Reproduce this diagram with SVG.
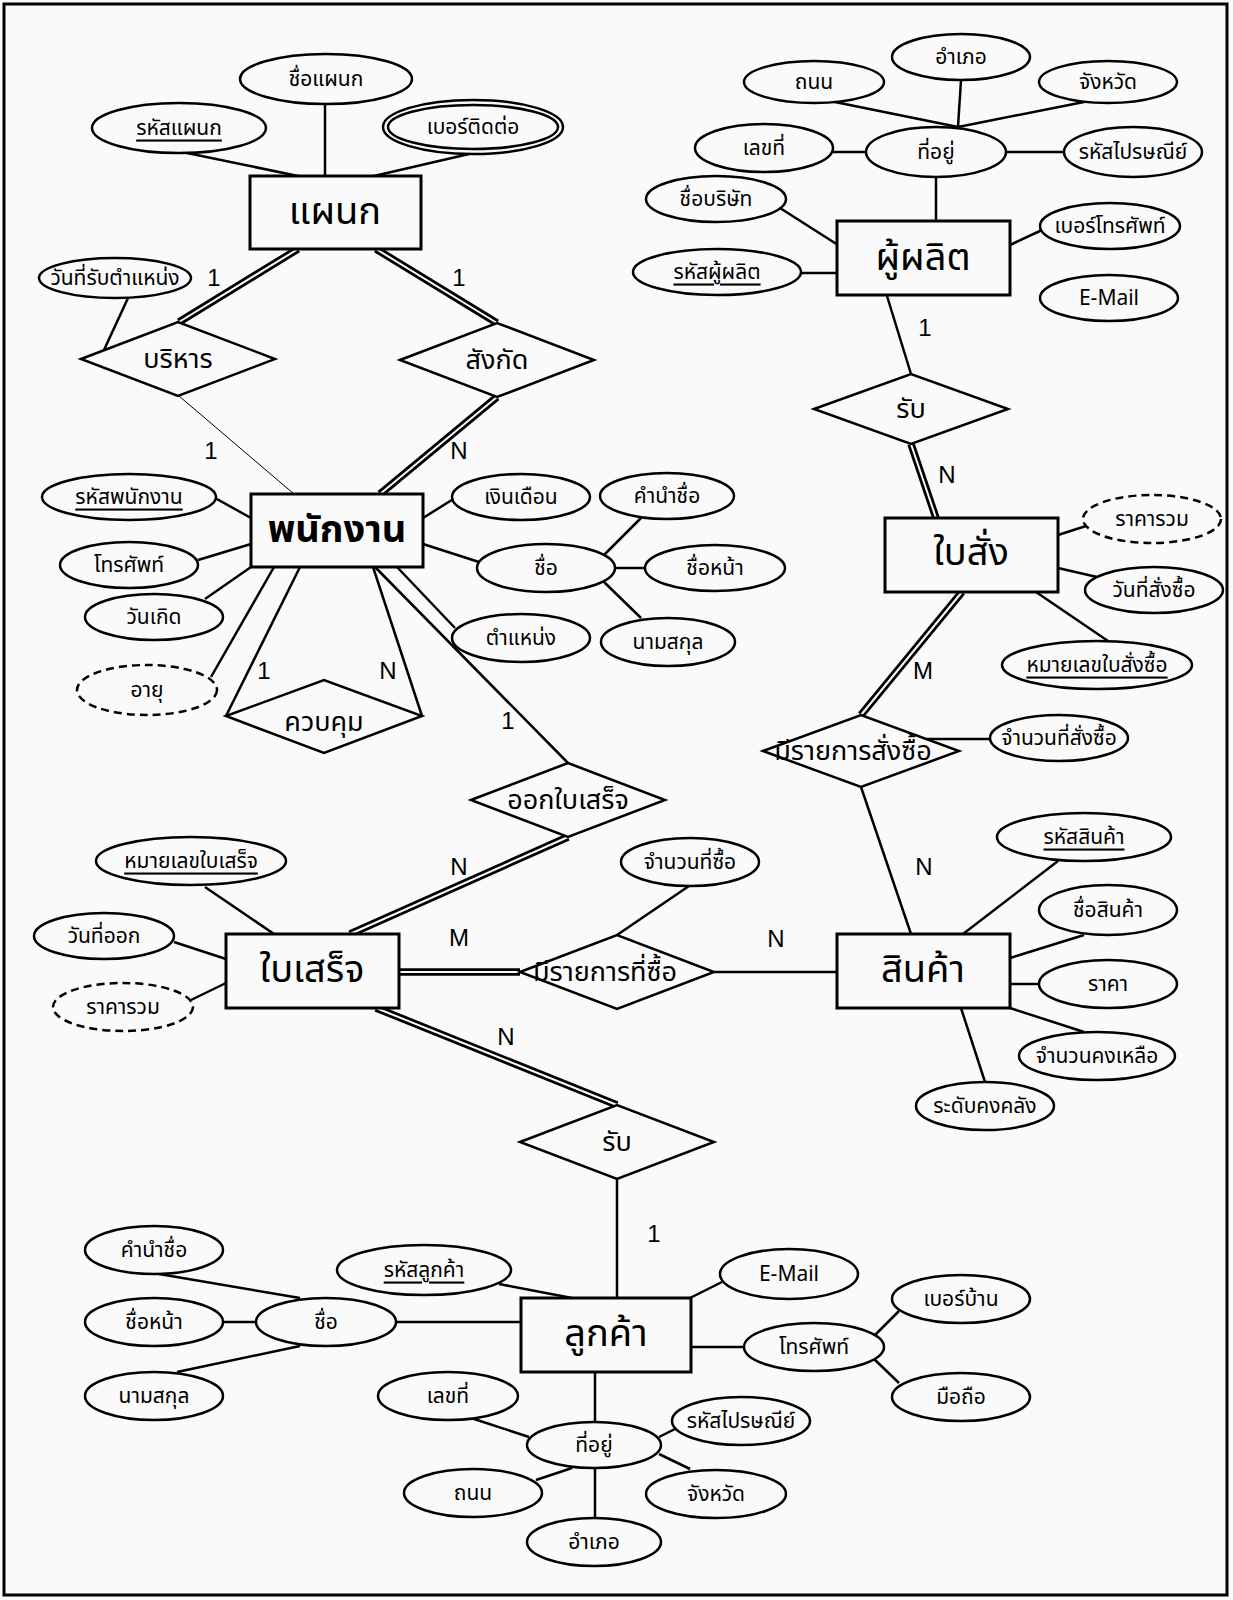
<svg xmlns="http://www.w3.org/2000/svg" width="1233" height="1600" viewBox="0 0 1233 1600">
<style>
text{font-family:"Noto Sans Thai","Noto Sans","DejaVu Sans",sans-serif;fill:#000;text-anchor:middle;dominant-baseline:central}
.ent rect{fill:#fafafa;stroke:#000;stroke-width:3}
.ent text{font-size:38px}
.rel polygon{fill:#fafafa;stroke:#000;stroke-width:2.5}
.rel text{font-size:27px}
.att ellipse{fill:#fafafa;stroke:#000;stroke-width:2.5}
.att text{font-size:21px}
.dash ellipse{stroke-dasharray:8 5}
.key text{text-decoration:underline}
.conn line{stroke:#000;stroke-width:2.5}
.conn line.thin{stroke-width:1}
.conn line.dblo{stroke-width:7.5}
.conn line.dbli{stroke:#fafafa;stroke-width:2}
.card text{font-family:"Liberation Sans",Arial,sans-serif;font-size:24px}
</style>
<rect x="0" y="0" width="1233" height="1600" fill="#fafafa"/>
<rect x="4" y="4" width="1223" height="1591" fill="#fafafa" stroke="#000" stroke-width="3"/>

<g id="connectors" class="conn">
<line x1="187" y1="153" x2="298" y2="176"/>
<line x1="325" y1="104" x2="325" y2="176"/>
<line x1="469" y1="154" x2="374" y2="176"/>
<line class="dblo" x1="298" y1="249" x2="179" y2="322"/><line class="dbli" x1="298" y1="249" x2="179" y2="322"/>
<line class="dblo" x1="376" y1="249" x2="497" y2="323"/><line class="dbli" x1="376" y1="249" x2="497" y2="323"/>
<line x1="128" y1="298" x2="104" y2="350"/>
<line class="thin" x1="179" y1="396" x2="294" y2="494"/>
<line class="dblo" x1="497" y1="397" x2="380" y2="494"/><line class="dbli" x1="497" y1="397" x2="380" y2="494"/>
<line x1="961" y1="80" x2="958" y2="127"/>
<line x1="835" y1="102" x2="958" y2="127"/>
<line x1="1084" y1="102" x2="958" y2="127"/>
<line x1="833" y1="152" x2="866" y2="152"/>
<line x1="1006" y1="152" x2="1064" y2="152"/>
<line x1="936" y1="177" x2="936" y2="221"/>
<line x1="780" y1="208" x2="838" y2="245"/>
<line x1="801" y1="273" x2="837" y2="273"/>
<line x1="1042" y1="230" x2="1010" y2="245"/>
<line x1="887" y1="296" x2="911" y2="374"/>
<line class="dblo" x1="911" y1="444" x2="936" y2="518"/><line class="dbli" x1="911" y1="444" x2="936" y2="518"/>
<line x1="215" y1="498" x2="251" y2="518"/>
<line x1="198" y1="560" x2="251" y2="544"/>
<line x1="205" y1="599" x2="251" y2="567"/>
<line x1="274" y1="567" x2="211" y2="677"/>
<line x1="300" y1="567" x2="226" y2="716"/>
<line x1="373" y1="567" x2="422" y2="716"/>
<line x1="375" y1="567" x2="568" y2="763"/>
<line x1="397" y1="567" x2="455" y2="628"/>
<line x1="423" y1="518" x2="455" y2="498"/>
<line x1="423" y1="544" x2="479" y2="562"/>
<line x1="604" y1="555" x2="641" y2="518"/>
<line x1="615" y1="568" x2="646" y2="568"/>
<line x1="604" y1="582" x2="641" y2="618"/>
<line x1="1058" y1="535" x2="1086" y2="526"/>
<line x1="1058" y1="568" x2="1097" y2="577"/>
<line x1="1036" y1="592" x2="1108" y2="641"/>
<line class="dblo" x1="962" y1="592" x2="861" y2="715"/><line class="dbli" x1="962" y1="592" x2="861" y2="715"/>
<line x1="927" y1="739" x2="990" y2="739"/>
<line x1="861" y1="787" x2="911" y2="934"/>
<line x1="205" y1="887" x2="274" y2="934"/>
<line x1="174" y1="942" x2="226" y2="959"/>
<line x1="191" y1="1000" x2="226" y2="983"/>
<line class="dblo" x1="568" y1="837" x2="350" y2="934"/><line class="dbli" x1="568" y1="837" x2="350" y2="934"/>
<line class="dblo" x1="399" y1="972" x2="520" y2="972"/><line class="dbli" x1="399" y1="972" x2="520" y2="972"/>
<line class="dblo" x1="376" y1="1008" x2="617" y2="1105"/><line class="dbli" x1="376" y1="1008" x2="617" y2="1105"/>
<line x1="714" y1="972" x2="837" y2="972"/>
<line x1="689" y1="886" x2="617" y2="935"/>
<line x1="1058" y1="861" x2="963" y2="934"/>
<line x1="1084" y1="935" x2="1010" y2="958"/>
<line x1="1010" y1="984" x2="1039" y2="984"/>
<line x1="1010" y1="1008" x2="1084" y2="1032"/>
<line x1="961" y1="1008" x2="985" y2="1082"/>
<line x1="617" y1="1179" x2="617" y2="1298"/>
<line x1="159" y1="1274" x2="300" y2="1298"/>
<line x1="223" y1="1322" x2="256" y2="1322"/>
<line x1="177" y1="1372" x2="300" y2="1346"/>
<line x1="396" y1="1322" x2="521" y2="1322"/>
<line x1="499" y1="1284" x2="572" y2="1298"/>
<line x1="690" y1="1298" x2="722" y2="1282"/>
<line x1="690" y1="1347" x2="744" y2="1347"/>
<line x1="875" y1="1335" x2="899" y2="1311"/>
<line x1="873" y1="1358" x2="899" y2="1383"/>
<line x1="595" y1="1372" x2="595" y2="1422"/>
<line x1="471" y1="1418" x2="529" y2="1437"/>
<line x1="536" y1="1480" x2="572" y2="1468"/>
<line x1="595" y1="1468" x2="595" y2="1518"/>
<line x1="659" y1="1437" x2="675" y2="1429"/>
<line x1="659" y1="1454" x2="690" y2="1469"/>
</g>

<g id="e-department" class="ent"><rect x="250" y="176" width="171" height="73"/><text x="335" y="212">แผนก</text></g>
<g id="e-manufacturer" class="ent"><rect x="837" y="221" width="173" height="74"/><text x="923" y="258">ผู้ผลิต</text></g>
<g id="e-employee" class="ent"><rect x="251" y="494" width="172" height="73"/><text x="337" y="530" font-weight="bold" font-size="33">พนักงาน</text></g>
<g id="e-order" class="ent"><rect x="885" y="518" width="173" height="74"/><text x="971" y="553">ใบสั่ง</text></g>
<g id="e-receipt" class="ent"><rect x="226" y="934" width="173" height="74"/><text x="312" y="970">ใบเสร็จ</text></g>
<g id="e-product" class="ent"><rect x="837" y="934" width="173" height="74"/><text x="923" y="970">สินค้า</text></g>
<g id="e-customer" class="ent"><rect x="521" y="1298" width="170" height="74"/><text x="606" y="1334">ลูกค้า</text></g>

<g id="r-manage" class="rel"><polygon points="81,359 178,322 275,359 178,396"/><text x="178" y="359">บริหาร</text></g>
<g id="r-belong" class="rel"><polygon points="400,360 497,323 594,360 497,397"/><text x="497" y="360">สังกัด</text></g>
<g id="r-receive1" class="rel"><polygon points="814,409 911,374 1008,409 911,444"/><text x="911" y="409">รับ</text></g>
<g id="r-control" class="rel"><polygon points="226,716 324,680 422,716 324,753"/><text x="324" y="722">ควบคุม</text></g>
<g id="r-issue" class="rel"><polygon points="471,800 568,763 665,800 568,837"/><text x="568" y="800">ออกใบเสร็จ</text></g>
<g id="r-orderitems" class="rel"><polygon points="763,751 861,715 959,751 861,787"/><text x="853" y="751">มีรายการสั่งซื้อ</text></g>
<g id="r-buyitems" class="rel"><polygon points="520,972 617,935 714,972 617,1009"/><text x="605" y="972">มีรายการที่ซื้อ</text></g>
<g id="r-receive2" class="rel"><polygon points="520,1142 617,1105 714,1142 617,1179"/><text x="617" y="1142">รับ</text></g>

<g id="a-deptname" class="att"><ellipse cx="326" cy="79" rx="86" ry="25"/><text x="326" y="79">ชื่อแผนก</text></g>
<g id="a-deptid" class="att key"><ellipse cx="179" cy="128" rx="87" ry="25"/><text x="179" y="128">รหัสแผนก</text></g>
<g id="a-deptphone" class="att"><ellipse cx="473" cy="127" rx="90" ry="27"/><ellipse cx="473" cy="127" rx="85" ry="22"/><text x="473" y="127">เบอร์ติดต่อ</text></g>
<g id="a-startdate" class="att"><ellipse cx="115" cy="278" rx="76" ry="20"/><text x="115" y="278" font-size="19">วันที่รับตำแหน่ง</text></g>

<g id="a-m-district" class="att"><ellipse cx="961" cy="57" rx="69" ry="23"/><text x="961" y="57">อำเภอ</text></g>
<g id="a-m-road" class="att"><ellipse cx="814" cy="82" rx="70" ry="21"/><text x="814" y="82">ถนน</text></g>
<g id="a-m-province" class="att"><ellipse cx="1108" cy="82" rx="69" ry="21"/><text x="1108" y="82">จังหวัด</text></g>
<g id="a-m-no" class="att"><ellipse cx="764" cy="148" rx="69" ry="24"/><text x="764" y="148">เลขที่</text></g>
<g id="a-m-address" class="att"><ellipse cx="936" cy="152" rx="70" ry="25"/><text x="936" y="152">ที่อยู่</text></g>
<g id="a-m-zip" class="att"><ellipse cx="1133" cy="152" rx="69" ry="25"/><text x="1133" y="152">รหัสไปรษณีย์</text></g>
<g id="a-m-company" class="att"><ellipse cx="716" cy="199" rx="70" ry="23"/><text x="716" y="199">ชื่อบริษัท</text></g>
<g id="a-m-id" class="att key"><ellipse cx="717" cy="272" rx="84" ry="23"/><text x="717" y="272">รหัสผู้ผลิต</text></g>
<g id="a-m-phone" class="att"><ellipse cx="1110" cy="226" rx="70" ry="23"/><text x="1110" y="226">เบอร์โทรศัพท์</text></g>
<g id="a-m-email" class="att"><ellipse cx="1109" cy="298" rx="69" ry="23"/><text x="1109" y="298">E-Mail</text></g>

<g id="a-e-id" class="att key"><ellipse cx="129" cy="497" rx="87" ry="23"/><text x="129" y="497">รหัสพนักงาน</text></g>
<g id="a-e-phone" class="att"><ellipse cx="129" cy="565" rx="69" ry="23"/><text x="129" y="565">โทรศัพท์</text></g>
<g id="a-e-birth" class="att"><ellipse cx="154" cy="617" rx="69" ry="23"/><text x="154" y="617">วันเกิด</text></g>
<g id="a-e-age" class="att dash"><ellipse cx="147" cy="690" rx="70" ry="25"/><text x="147" y="690">อายุ</text></g>
<g id="a-e-salary" class="att"><ellipse cx="521" cy="497" rx="69" ry="23"/><text x="521" y="497">เงินเดือน</text></g>
<g id="a-e-name" class="att"><ellipse cx="546" cy="568" rx="69" ry="24"/><text x="546" y="568">ชื่อ</text></g>
<g id="a-e-position" class="att"><ellipse cx="521" cy="638" rx="69" ry="24"/><text x="521" y="638">ตำแหน่ง</text></g>
<g id="a-e-title" class="att"><ellipse cx="667" cy="496" rx="67" ry="23"/><text x="667" y="496">คำนำชื่อ</text></g>
<g id="a-e-first" class="att"><ellipse cx="715" cy="568" rx="70" ry="23"/><text x="715" y="568">ชื่อหน้า</text></g>
<g id="a-e-last" class="att"><ellipse cx="668" cy="642" rx="67" ry="24"/><text x="668" y="642">นามสกุล</text></g>

<g id="a-o-total" class="att dash"><ellipse cx="1152" cy="519" rx="69" ry="24"/><text x="1152" y="519">ราคารวม</text></g>
<g id="a-o-date" class="att"><ellipse cx="1154" cy="590" rx="69" ry="23"/><text x="1154" y="590">วันที่สั่งซื้อ</text></g>
<g id="a-o-id" class="att key"><ellipse cx="1097" cy="665" rx="95" ry="24"/><text x="1097" y="665">หมายเลขใบสั่งซื้อ</text></g>
<g id="a-o-qty" class="att"><ellipse cx="1059" cy="738" rx="69" ry="23"/><text x="1059" y="738">จำนวนที่สั่งซื้อ</text></g>

<g id="a-r-id" class="att key"><ellipse cx="191" cy="861" rx="95" ry="24"/><text x="191" y="861">หมายเลขใบเสร็จ</text></g>
<g id="a-r-date" class="att"><ellipse cx="104" cy="936" rx="70" ry="23"/><text x="104" y="936">วันที่ออก</text></g>
<g id="a-r-total" class="att dash"><ellipse cx="123" cy="1007" rx="70" ry="24"/><text x="123" y="1007">ราคารวม</text></g>
<g id="a-r-qty" class="att"><ellipse cx="690" cy="862" rx="69" ry="24"/><text x="690" y="862">จำนวนที่ซื้อ</text></g>

<g id="a-p-id" class="att key"><ellipse cx="1084" cy="837" rx="87" ry="24"/><text x="1084" y="837">รหัสสินค้า</text></g>
<g id="a-p-name" class="att"><ellipse cx="1108" cy="910" rx="69" ry="25"/><text x="1108" y="910">ชื่อสินค้า</text></g>
<g id="a-p-price" class="att"><ellipse cx="1108" cy="984" rx="69" ry="24"/><text x="1108" y="984">ราคา</text></g>
<g id="a-p-stock" class="att"><ellipse cx="1097" cy="1056" rx="78" ry="24"/><text x="1097" y="1056">จำนวนคงเหลือ</text></g>
<g id="a-p-level" class="att"><ellipse cx="985" cy="1106" rx="69" ry="24"/><text x="985" y="1106">ระดับคงคลัง</text></g>

<g id="a-c-title" class="att"><ellipse cx="154" cy="1250" rx="69" ry="24"/><text x="154" y="1250">คำนำชื่อ</text></g>
<g id="a-c-first" class="att"><ellipse cx="154" cy="1322" rx="69" ry="24"/><text x="154" y="1322">ชื่อหน้า</text></g>
<g id="a-c-last" class="att"><ellipse cx="154" cy="1396" rx="69" ry="24"/><text x="154" y="1396">นามสกุล</text></g>
<g id="a-c-name" class="att"><ellipse cx="326" cy="1322" rx="70" ry="24"/><text x="326" y="1322">ชื่อ</text></g>
<g id="a-c-id" class="att key"><ellipse cx="424" cy="1270" rx="87" ry="25"/><text x="424" y="1270">รหัสลูกค้า</text></g>
<g id="a-c-email" class="att"><ellipse cx="789" cy="1274" rx="69" ry="25"/><text x="789" y="1274">E-Mail</text></g>
<g id="a-c-phone" class="att"><ellipse cx="814" cy="1347" rx="70" ry="24"/><text x="814" y="1347">โทรศัพท์</text></g>
<g id="a-c-home" class="att"><ellipse cx="961" cy="1299" rx="69" ry="24"/><text x="961" y="1299">เบอร์บ้าน</text></g>
<g id="a-c-mobile" class="att"><ellipse cx="961" cy="1397" rx="69" ry="24"/><text x="961" y="1397">มือถือ</text></g>
<g id="a-c-address" class="att"><ellipse cx="594" cy="1445" rx="67" ry="23"/><text x="594" y="1445">ที่อยู่</text></g>
<g id="a-c-no" class="att"><ellipse cx="448" cy="1396" rx="70" ry="24"/><text x="448" y="1396">เลขที่</text></g>
<g id="a-c-road" class="att"><ellipse cx="473" cy="1493" rx="69" ry="24"/><text x="473" y="1493">ถนน</text></g>
<g id="a-c-district" class="att"><ellipse cx="594" cy="1542" rx="67" ry="24"/><text x="594" y="1542">อำเภอ</text></g>
<g id="a-c-zip" class="att"><ellipse cx="741" cy="1421" rx="69" ry="24"/><text x="741" y="1421">รหัสไปรษณีย์</text></g>
<g id="a-c-province" class="att"><ellipse cx="716" cy="1494" rx="70" ry="24"/><text x="716" y="1494">จังหวัด</text></g>

<g id="cardinalities" class="card">
<text x="214" y="277">1</text>
<text x="459" y="277">1</text>
<text x="211" y="450">1</text>
<text x="459" y="450">N</text>
<text x="925" y="327">1</text>
<text x="947" y="474">N</text>
<text x="264" y="670">1</text>
<text x="388" y="670">N</text>
<text x="923" y="670">M</text>
<text x="508" y="720">1</text>
<text x="459" y="866">N</text>
<text x="459" y="937">M</text>
<text x="924" y="866">N</text>
<text x="776" y="938">N</text>
<text x="506" y="1036">N</text>
<text x="654" y="1233">1</text>
</g>
</svg>
